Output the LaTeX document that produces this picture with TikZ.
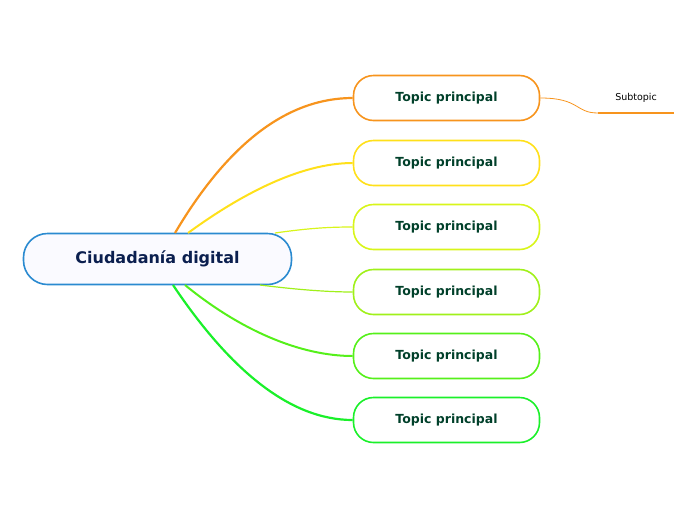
\documentclass[tikz,border=0pt]{standalone}
\usepackage{fontspec}
\setmainfont{DejaVu Sans}
\definecolor{navy}{HTML}{0B1F4F}
\definecolor{tgreen}{HTML}{00402A}
\definecolor{cblue}{HTML}{2A8AD0}
\definecolor{c1}{HTML}{F7941D}
\definecolor{c2}{HTML}{FFE01A}
\definecolor{c3}{HTML}{D8F51A}
\definecolor{c4}{HTML}{A0F01A}
\definecolor{c5}{HTML}{55F01A}
\definecolor{c6}{HTML}{1AF02A}
\begin{document}
\begin{tikzpicture}[x=1pt,y=-1pt,
 topic/.style={draw=#1,line width=1.6pt,rounded corners=20pt,minimum width=186pt,minimum height=45pt,fill=white,font=\bfseries\fontsize{12.5}{14}\selectfont,text=tgreen},
 conn/.style={draw=#1,line width=2pt}]
\useasboundingbox (0,0) rectangle (696,520);
\node[draw=cblue,line width=1.6pt,rounded corners=24pt,minimum width=268pt,minimum height=51pt,fill=blue!2,font=\bfseries\fontsize{16}{18}\selectfont,text=navy] (c) at (157.5,259) {Ciudadanía digital};
\foreach \i/\y in {1/98,2/163,3/227,4/292,5/356,6/420}{
 \node[topic=c\i] (t\i) at (446.5,\y) {Topic principal};}
\begin{scope}[on background layer/.try]
\end{scope}
\draw[c1,line width=2.2pt] (175,233) .. controls (230,140) and (290,98) .. (t1.west);
\draw[c2,line width=2pt] (188,233) .. controls (240,195) and (300,163) .. (t2.west);
\draw[c3,line width=1.2pt] (275,233) .. controls (310,228) and (330,227) .. (t3.west);
\draw[c4,line width=1.2pt] (260,285) .. controls (300,290) and (330,292) .. (t4.west);
\draw[c5,line width=2pt] (185,285) .. controls (240,330) and (300,356) .. (t5.west);
\draw[c6,line width=2.2pt] (173,285) .. controls (230,370) and (290,420) .. (t6.west);
\node[font=\fontsize{9.5}{11}\selectfont,inner sep=1pt] (s) at (636,98) {Subtopic};
\coordinate (sl) at (598,113);
\coordinate (sr) at (674,113);
\draw[c1,line width=2.4pt] (sl) -- (sr);
\draw[c1,line width=0.8pt] (t1.east) .. controls (580,98) and (575,113) .. (sl);
\end{tikzpicture}
\end{document}
